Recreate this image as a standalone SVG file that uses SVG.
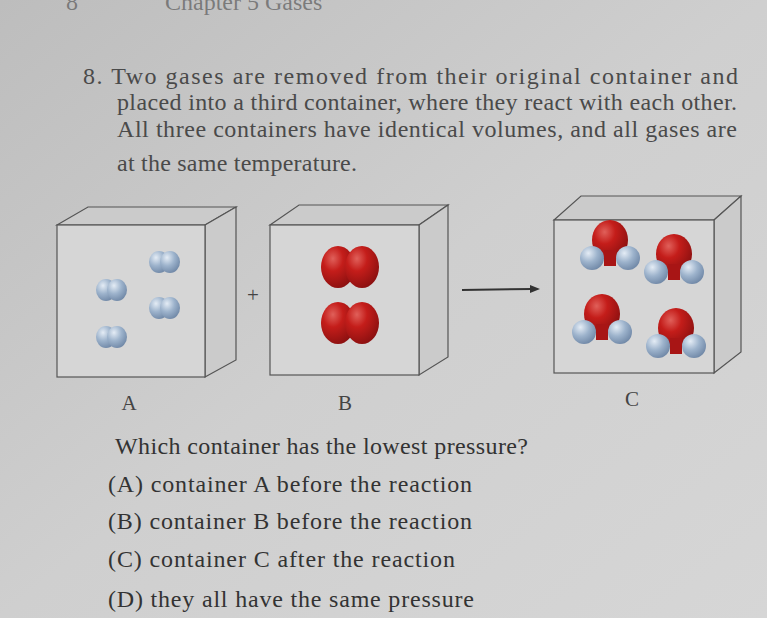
<svg xmlns="http://www.w3.org/2000/svg" width="767" height="618" viewBox="0 0 767 618">
<defs>
<linearGradient id="bg" x1="0" y1="0" x2="1" y2="1"><stop offset="0" stop-color="#bdbdbd"/><stop offset="0.5" stop-color="#cfcfcf"/><stop offset="1" stop-color="#d6d6d6"/></linearGradient>
<radialGradient id="red" cx="0.35" cy="0.3" r="0.75"><stop offset="0" stop-color="#e0605a"/><stop offset="0.4" stop-color="#c41d1a"/><stop offset="1" stop-color="#8a1010"/></radialGradient>
<radialGradient id="blue" cx="0.35" cy="0.3" r="0.75"><stop offset="0" stop-color="#e4ecf5"/><stop offset="0.5" stop-color="#9db3cc"/><stop offset="1" stop-color="#6f87a6"/></radialGradient>
<g id="h2"><ellipse cx="-5" cy="0" rx="10" ry="11" fill="url(#blue)"/><ellipse cx="6" cy="0" rx="10" ry="11" fill="url(#blue)"/></g>
<g id="o2"><ellipse cx="-12" cy="0" rx="17" ry="21" fill="url(#red)"/><ellipse cx="12" cy="0" rx="17" ry="21" fill="url(#red)"/></g>
<g id="h2o"><ellipse cx="0" cy="-2" rx="18" ry="20" fill="url(#red)"/><rect x="-6" y="8" width="12" height="16" fill="#a81515"/><circle cx="-18" cy="16" r="12" fill="url(#blue)"/><circle cx="18" cy="16" r="12" fill="url(#blue)"/></g>
</defs>
<style>
.q{font-family:"Liberation Serif",serif;font-size:24px;fill:#4a4a4a}
.a{font-family:"Liberation Serif",serif;font-size:24px;fill:#333}
.lbl{font-family:"Liberation Serif",serif;font-size:21px;fill:#444}
.box{fill:#d6d6d6;stroke:#555;stroke-width:1.2}
.side{fill:#cbcbcb;stroke:#555;stroke-width:1.2}
</style>
<rect width="767" height="618" fill="url(#bg)"/>
<text x="66" y="10" class="q" fill-opacity="0.6">8</text>
<text x="165" y="10" class="q" fill-opacity="0.6">Chapter 5   Gases</text>
<g id="question">
<text x="83" y="84" class="q" textLength="655">8. Two gases are removed from their original container and</text>
<text x="117" y="110" class="q" textLength="620">placed into a third container, where they react with each other.</text>
<text x="117" y="137" class="q" textLength="620">All three containers have identical volumes, and all gases are</text>
<text x="117" y="171" class="q" textLength="240">at the same temperature.</text>
</g>
<g id="boxA">
<polygon class="side" points="57,225 88,207 236,207 205,225"/>
<polygon class="side" points="205,225 236,207 236,360 205,377"/>
<rect class="box" x="57" y="225" width="148" height="152"/>
<use href="#h2" x="164" y="262"/><use href="#h2" x="111" y="290"/><use href="#h2" x="164" y="308"/><use href="#h2" x="111" y="337"/>
<text x="129" y="410" class="lbl" text-anchor="middle">A</text>
</g>
<g id="boxB">
<polygon class="side" points="270,225 299,205 448,205 419,225"/>
<polygon class="side" points="419,225 448,205 448,357 419,375"/>
<rect class="box" x="270" y="225" width="149" height="150"/>
<use href="#o2" x="350" y="267"/><use href="#o2" x="350" y="323"/>
<text x="345" y="410" class="lbl" text-anchor="middle">B</text>
</g>
<g id="boxC">
<polygon class="side" points="554,220 581,196 741,196 714,220"/>
<polygon class="side" points="714,220 741,196 741,352 714,373"/>
<rect class="box" x="554" y="220" width="160" height="153"/>
<use href="#h2o" x="610" y="242"/><use href="#h2o" x="674" y="256"/><use href="#h2o" x="602" y="316"/><use href="#h2o" x="676" y="330"/>
<text x="632" y="406" class="lbl" text-anchor="middle">C</text>
</g>
<g id="connectors">
<text x="253" y="302" class="lbl" font-size="26" text-anchor="middle">+</text>
<line x1="462" y1="290" x2="532" y2="289" stroke="#333" stroke-width="2"/>
<polygon points="540,289 530,285 530,293" fill="#333"/>
</g>
<g id="answers">
<text x="115" y="454" class="a" textLength="413">Which container has the lowest pressure?</text>
<text x="108" y="492" class="a" textLength="364">(A) container A before the reaction</text>
<text x="108" y="529" class="a" textLength="364">(B) container B before the reaction</text>
<text x="108" y="567" class="a" textLength="347">(C) container C after the reaction</text>
<text x="108" y="607" class="a" textLength="366">(D) they all have the same pressure</text>
</g>
</svg>
